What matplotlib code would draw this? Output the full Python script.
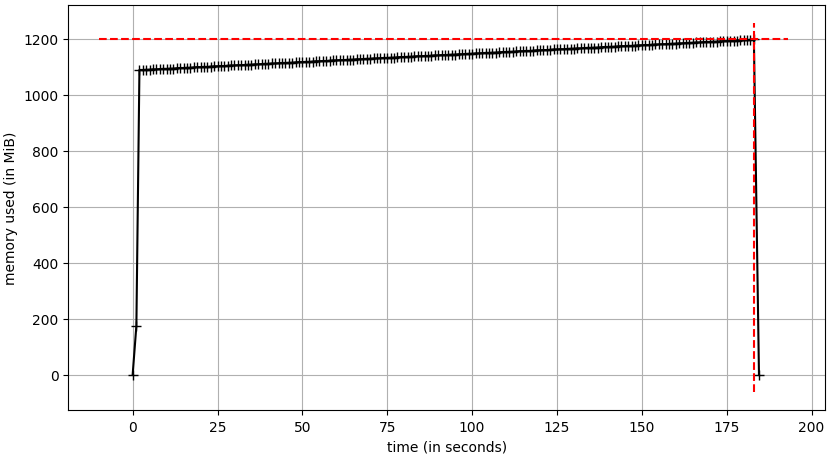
import matplotlib
matplotlib.use("Agg")
import matplotlib.pyplot as plt
import numpy as np

mem_steady = [
1088,1088,1089,1089,1090,1090,1091,1092,1092,1093,
1093,1094,1095,1095,1096,1096,1097,1098,1098,1099,
1099,1100,1101,1101,1102,1102,1103,1104,1104,1105,
1105,1106,1107,1107,1108,1108,1109,1110,1110,1111,
1111,1112,1113,1113,1114,1114,1115,1116,1116,1117,
1117,1118,1119,1119,1120,1120,1121,1122,1122,1123,
1123,1124,1125,1125,1126,1126,1127,1128,1128,1129,
1129,1130,1131,1131,1132,1132,1133,1134,1134,1135,
1135,1136,1137,1137,1138,1138,1139,1140,1140,1141,
1141,1142,1143,1143,1144,1144,1145,1146,1146,1147,
1147,1148,1149,1149,1150,1150,1151,1152,1152,1153,
1153,1154,1155,1155,1156,1156,1157,1158,1158,1159,
1159,1160,1161,1161,1162,1162,1163,1164,1164,1165,
1165,1166,1167,1167,1168,1168,1169,1170,1170,1171,
1171,1172,1173,1173,1174,1174,1175,1176,1176,1177,
1177,1178,1179,1179,1180,1180,1181,1182,1182,1183,
1183,1184,1185,1185,1186,1186,1187,1188,1188,1189,
1189,1190,1191,1191,1192,1192,1193,1194,1194,1195,
1196,1197]
t_steady = list(range(2, 2 + len(mem_steady)))
times = [0, 1.1] + t_steady + [184.5]
mem = [0, 175] + mem_steady + [0]

peak_mem = 1197
peak_time = 183

fig = plt.figure(figsize=(8.31, 4.56), dpi=100)
ax = fig.add_axes([0.082, 0.099, 0.911, 0.888])
ax.plot(times, mem, '+-', color='black', markersize=7)
ax.hlines(peak_mem, -10, 193, colors='red', linestyles='--')
ax.vlines(peak_time, -60, 1255, colors='red', linestyles='--')
ax.set_xlim(-19, 204)
ax.set_ylim(-125, 1320)
ax.grid(True)
ax.set_axisbelow(True)
ax.set_xlabel('time (in seconds)')
ax.set_ylabel('memory used (in MiB)')
fig.savefig('out.png', dpi=100)
